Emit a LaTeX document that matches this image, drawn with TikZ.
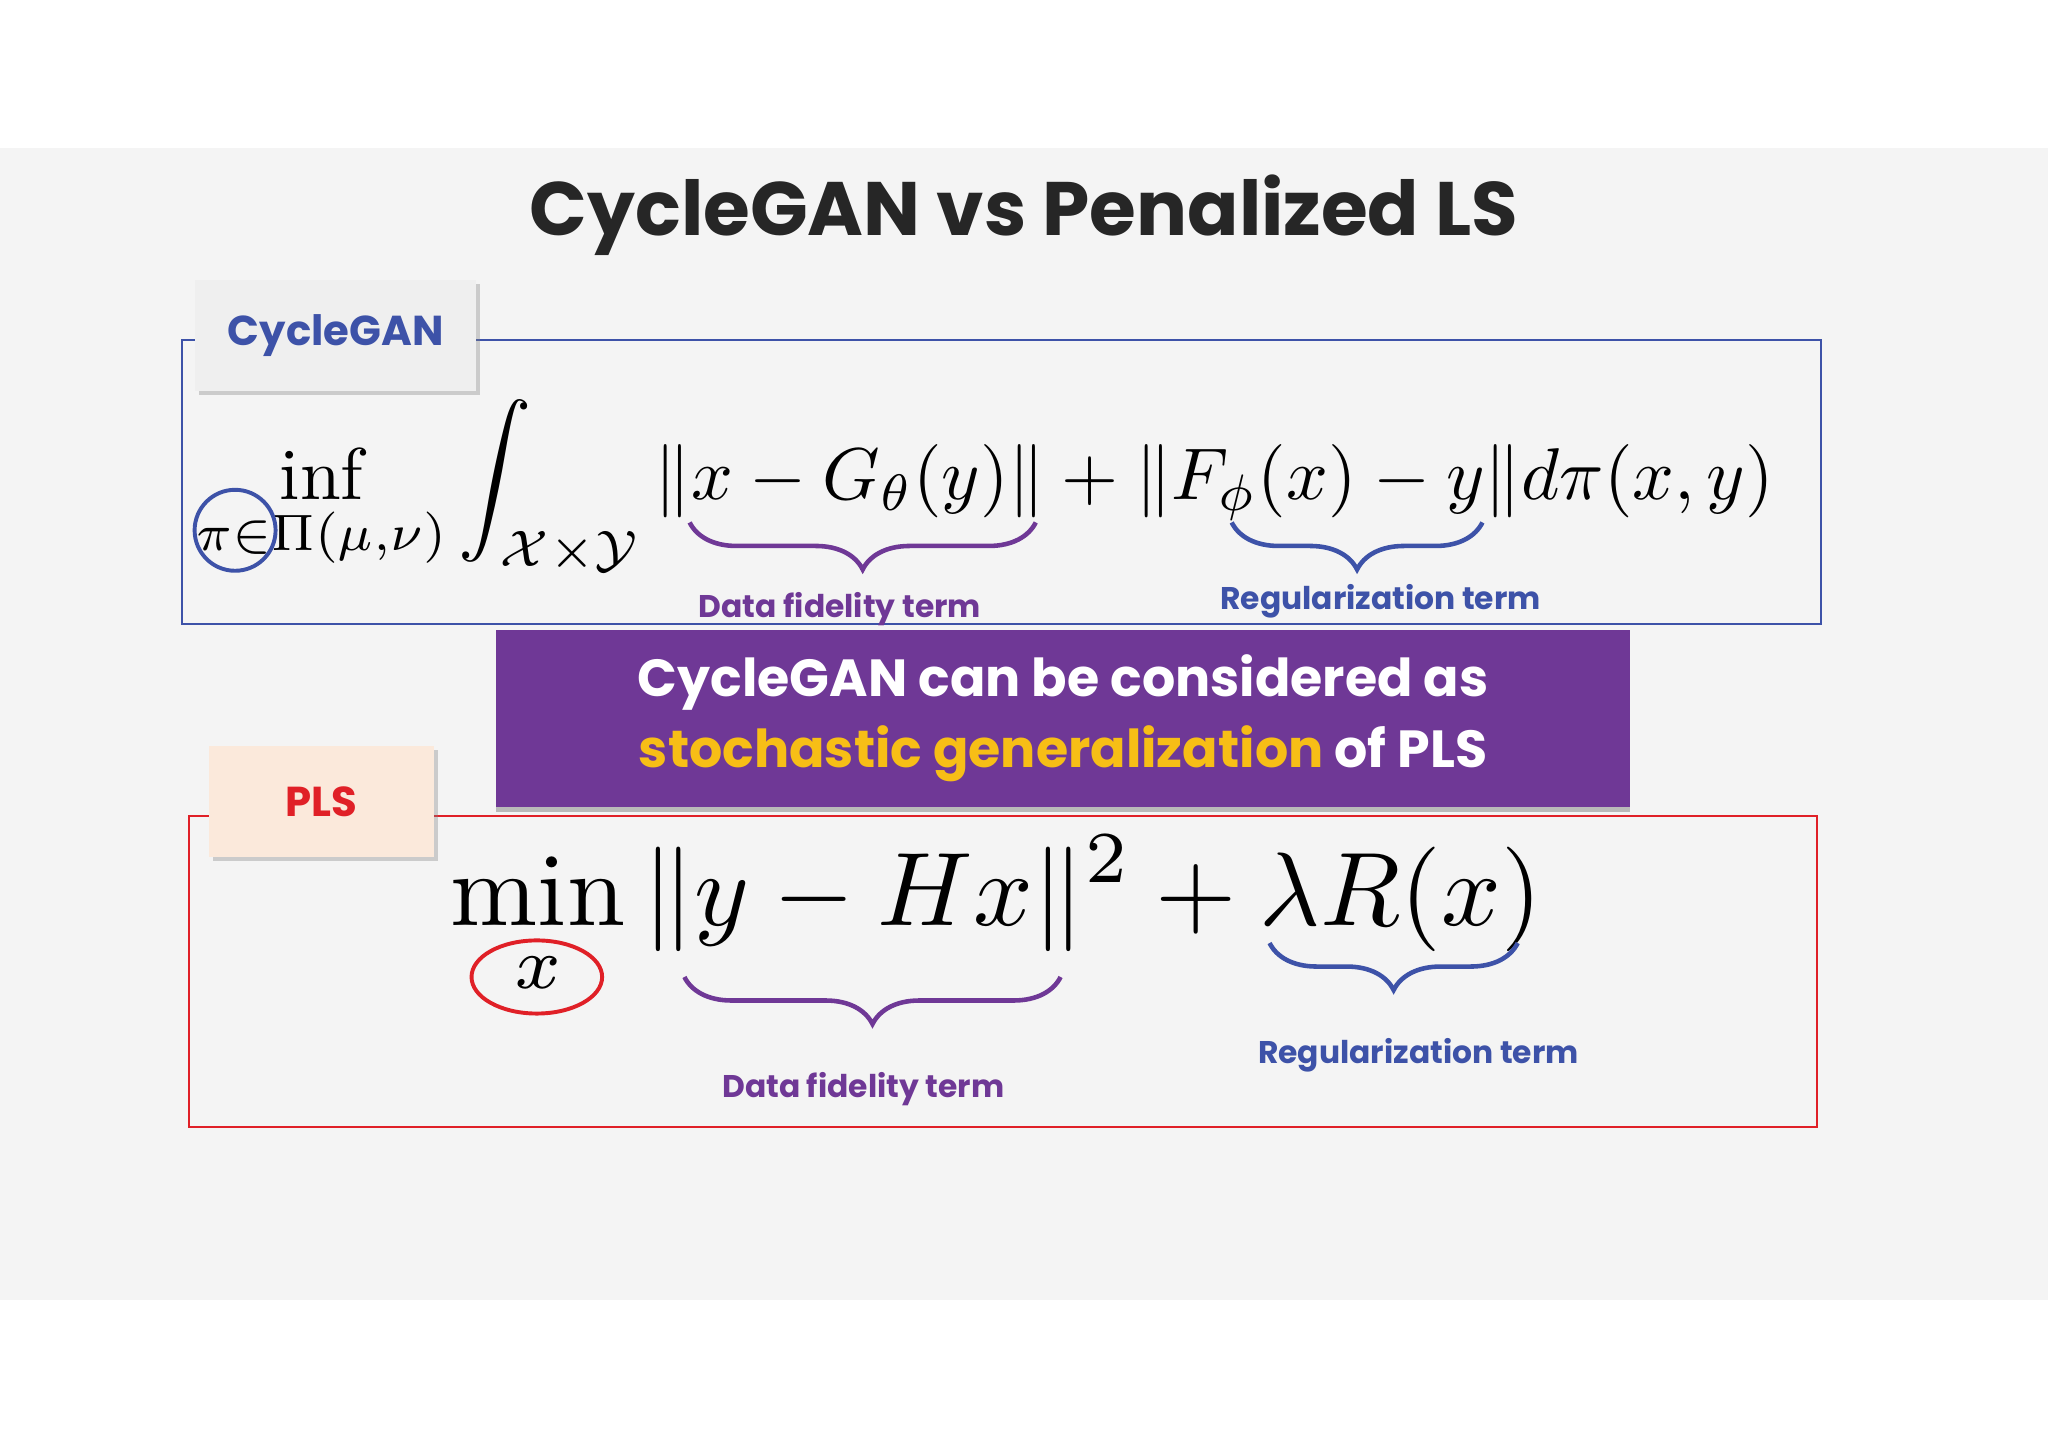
\documentclass[tikz,border=0pt]{standalone}
\usepackage{fontspec}
\usepackage{amsmath,graphicx}
\setsansfont{Poppins}
\usetikzlibrary{decorations.pathreplacing,shadows}
\definecolor{bgc}{HTML}{F4F4F4}
\definecolor{bl}{HTML}{3D52A8}
\definecolor{pu}{HTML}{6F3896}
\definecolor{ye}{HTML}{F7BE16}
\definecolor{rd}{HTML}{E02027}
\definecolor{pk}{HTML}{FBE9DB}
\definecolor{lg}{HTML}{EFEFEF}
\tikzset{
 brc/.style={decorate,decoration={brace,mirror,amplitude=36pt,aspect=0.5},line width=3.5pt},
 lbl/.style={font=\sffamily\bfseries\fontsize{24}{28}\selectfont},
 tag/.style={font=\sffamily\bfseries\fontsize{32}{38}\selectfont,minimum height=85pt,drop shadow={shadow xshift=3pt,shadow yshift=-3pt,opacity=.35}}
}
\begin{document}
\begin{tikzpicture}[x=1pt,y=-1pt]
\useasboundingbox (0,0) rectangle (1568,1110);
\fill[white] (0,0) rectangle (1568,1110);
\fill[bgc] (0,113) rectangle (1568,995);
\node[font=\sffamily\bfseries\fontsize{58}{66}\selectfont,text=black!85] (title) at (784,165) {CycleGAN vs Penalized LS};
% CycleGAN box
\draw[bl,line width=1.5pt] (139,260) rectangle (1394,478);
\node[tag,fill=lg,text=bl,minimum width=215pt] (cg) at (257,257) {CycleGAN};
\node[anchor=west,inner sep=0] (f1) at (150,372) {\resizebox{1208pt}{!}{$\displaystyle \inf_{\pi\in\Pi(\mu,\nu)}\int_{\mathcal{X}\times\mathcal{Y}}\|x-G_\theta(y)\|+\|F_\phi(x)-y\|d\pi(x,y)$}};
\draw[bl,line width=3pt] (180,406) circle (31);
\coordinate (a1) at (528,400); \coordinate (a2) at (793,400);
\draw[pu,brc] (a1) -- (a2);
\node[lbl,text=pu] (d1) at (643,466) {Data fidelity term};
\coordinate (b1) at (943,400); \coordinate (b2) at (1135,400);
\draw[bl,brc] (b1) -- (b2);
\node[lbl,text=bl] (r1) at (1057,460) {Regularization term};
% PLS box
\draw[rd,line width=1.5pt] (145,625) rectangle (1391,863);
\node[tag,fill=pk,text=rd,minimum width=172pt] (pls) at (246,614) {PLS};
\node[anchor=west,inner sep=0] (f2) at (345,702) {\resizebox{835pt}{!}{$\displaystyle \min_{x}\|y-Hx\|^2+\lambda R(x)$}};
\draw[rd,line width=3pt] (411,748) ellipse (50 and 28);
\coordinate (c1) at (524,748); \coordinate (c2) at (812,748);
\draw[pu,brc] (c1) -- (c2);
\node[lbl,text=pu] (d2) at (661,834) {Data fidelity term};
\coordinate (e1) at (972,722); \coordinate (e2) at (1162,722);
\draw[bl,brc] (e1) -- (e2);
\node[lbl,text=bl] (r2) at (1086,808) {Regularization term};
% purple box
\node[fill=pu,minimum width=868pt,minimum height=136pt,text=white,align=center,
 font=\sffamily\bfseries\fontsize{40}{54}\selectfont,
 drop shadow={shadow xshift=0pt,shadow yshift=-4pt,opacity=.5}] (msg) at (814,550)
 {CycleGAN can be considered as\\ \textcolor{ye}{stochastic generalization} of PLS};
\end{tikzpicture}
\end{document}
